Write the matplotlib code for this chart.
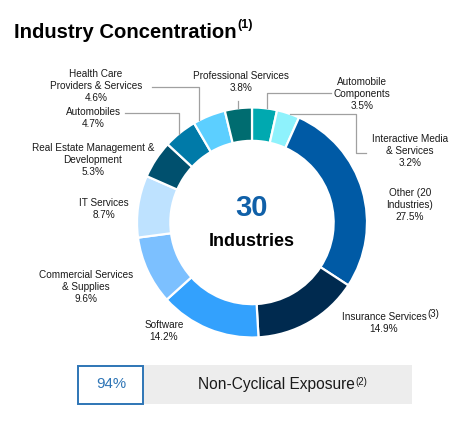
import matplotlib
matplotlib.use("Agg")
import matplotlib.pyplot as plt
import numpy as np
from matplotlib.patches import Rectangle

plt.rcParams['font.family'] = ['Liberation Sans', 'DejaVu Sans']

# ---------------- data ----------------
industries = ["Automobile\nComponents", "Interactive Media\n& Services", "Other (20\nIndustries)",
              "Insurance Services", "Software", "Commercial Services\n& Supplies", "IT Services",
              "Real Estate Management &\nDevelopment", "Automobiles",
              "Health Care\nProviders & Services", "Professional Services"]
shares = [3.5, 3.2, 27.5, 14.9, 14.2, 9.6, 8.7, 5.3, 4.7, 4.6, 3.8]
colors = ["#00A9B0", "#8EF2FC", "#005AA5", "#002A4F", "#33A1FD", "#7CC0FF", "#BEE2FF",
          "#00506E", "#007AA8", "#5CCFFF", "#006C70"]
center_count = "30"
center_label = "Industries"
non_cyclical = "94%"
non_cyclical_label = "Non-Cyclical Exposure"

W, H = 477, 429
fig = plt.figure(figsize=(W / 100, H / 100), dpi=100)
fig.patch.set_facecolor("white")

# donut geometry (pixels)
cx, cy, R = 252, 222.5, 115
ax = fig.add_axes([(cx - R) / W, (H - cy - R) / H, 2 * R / W, 2 * R / H])
ax.pie(shares, colors=colors, startangle=90, counterclock=False, radius=1,
       wedgeprops=dict(width=0.29, edgecolor="white", linewidth=1.6))
ax.set_xlim(-1, 1); ax.set_ylim(-1, 1)
ax.set_aspect("equal")
ax.axis("off")

ov = fig.add_axes([0, 0, 1, 1], zorder=5)
ov.set_xlim(0, W); ov.set_ylim(H, 0)
ov.axis("off")
ov.patch.set_alpha(0)

# center text
ov.text(cx, 208, center_count, ha="center", va="center", fontsize=21, fontweight="bold", color="#1060A8")
ov.text(cx, 242, center_label, ha="center", va="center", fontsize=13, fontweight="bold", color="black")

# title
t = ov.text(14, 38, "Industry Concentration", ha="left", va="baseline", fontsize=14.6, fontweight="bold")

fs = 7.2
# label positions (pixel centers) -- positioning only
lab_pos = [(362, 94), (410, 151), (410, 205), (384, 323), (164, 331), (86, 287), (104, 209),
           (93, 160), (93, 118), (96, 86), (241, 82)]
texts = []
for name, val, (x, y) in zip(industries, shares, lab_pos):
    txt = ov.text(x, y, f"{name}\n{val:.1f}%", ha="center", va="center", fontsize=fs,
                  color="#1a1a1a", linespacing=1.28)
    texts.append(txt)

lc = "#A0A0A0"
lw = 0.9
def circ_y(x):
    return cy - np.sqrt(R ** 2 - (x - cx) ** 2)
def circ_x(y):
    return cx + np.sqrt(R ** 2 - (y - cy) ** 2)

# leader lines
ov.plot([152, 199, 199], [87, 87, circ_y(199)], color=lc, lw=lw)          # Health care
ov.plot([125, 179, 179], [113, 113, circ_y(179)], color=lc, lw=lw)        # Automobiles
ov.plot([238, 238], [101, circ_y(238)], color=lc, lw=lw)                  # Professional
ov.plot([331, 267, 267], [93, 93, circ_y(267)], color=lc, lw=lw)          # Auto components
ov.plot([circ_x(114), 356, 356, 366], [114, 114, 153, 153], color=lc, lw=lw)  # Interactive media

# bottom boxes
ov.add_patch(Rectangle((144, 365), 268, 39, facecolor="#EDEDED", edgecolor="none"))
ov.add_patch(Rectangle((78.5, 365.5), 65, 38, facecolor="white", edgecolor="#2E75B6", lw=1.4))
ov.text(111, 384.5, non_cyclical, ha="center", va="center", fontsize=10.8, color="#2E75B6")
nc = ov.text(276, 384.5, non_cyclical_label, ha="center", va="center", fontsize=11.2, color="#1a1a1a")

# superscripts
fig.canvas.draw()
r = fig.canvas.get_renderer()
inv = ov.transData.inverted()
def sup_after(txtobj, s, size, dy, weight="normal"):
    bb = txtobj.get_window_extent(r)
    x1, y1 = inv.transform((bb.x1, bb.y1))
    ov.text(x1 + 1, y1 + dy, s, ha="left", va="top", fontsize=size, color=txtobj.get_color(),
            fontweight=weight)

sup_after(t, "(1)", 9, -4, "bold")
sup_after(nc, "(2)", 7, 0)
# insurance services superscript: first line of its label
ins = texts[3]
bb = ins.get_window_extent(r)
xa, ya = inv.transform((bb.x1, bb.y1))
ov.text(xa + 1, ya - 3, "(3)", ha="left", va="top", fontsize=7, color="#1a1a1a")

fig.savefig("out.png", dpi=100)
